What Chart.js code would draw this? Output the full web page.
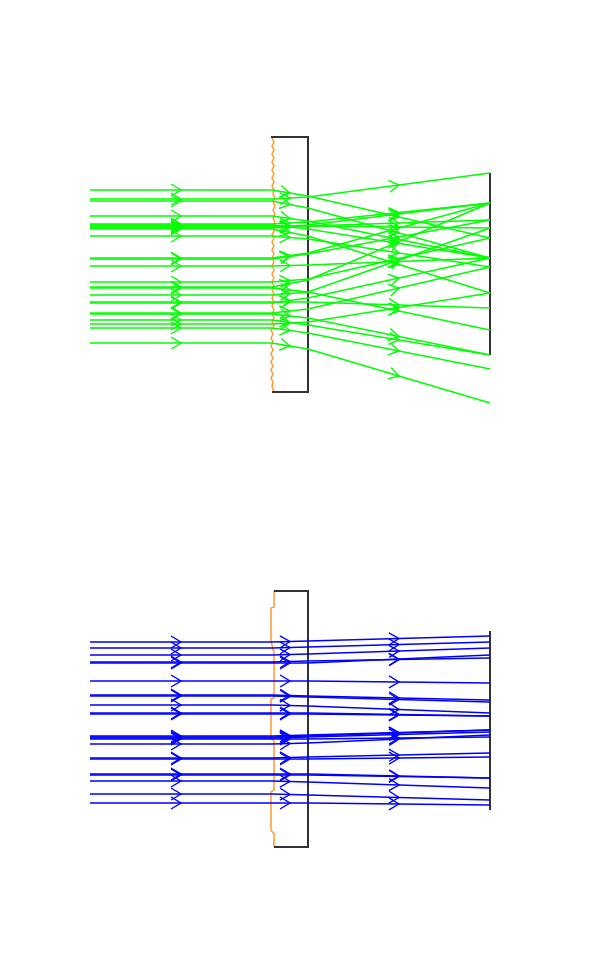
<!DOCTYPE html>
<html>
<head>
<meta charset="utf-8">
<title>Ray trace</title>
<script src="https://cdn.jsdelivr.net/npm/chart.js@4/dist/chart.umd.js"></script>
<style>
  html, body { margin: 0; padding: 0; background: #fff; }
  #wrap { width: 600px; height: 972px; }
  canvas { filter: blur(0.45px); }
</style>
</head>
<body>
<div id="wrap"><canvas id="rays" width="600" height="972"></canvas></div>
<script>
// x stations of every ray: source, lens front, lens back, image plane
const rayStations = [90, 272, 308, 490];

// green group, y at source / lens front, lens back, image plane
const greenIn   = [190, 199, 201, 216, 224, 225, 226, 227, 228, 229, 236, 258, 259, 266, 282, 287, 288, 295, 302, 303, 313, 314, 320, 324, 328, 343];
const greenExit = [196, 197, 208, 221, 222, 229, 226, 226, 225, 236, 239, 253, 254, 265, 279, 280, 292, 292, 302, 298, 309, 318, 325, 322, 333, 349];
const greenOut  = [238, 173, 258, 258, 203, 258, 228, 220, 203, 293, 267, 203, 220, 258, 238, 203, 330, 228, 308, 258, 267, 355, 355, 293, 369, 403];

// blue group
const blueIn   = [642, 648, 655, 662, 663, 681, 695, 696, 705, 713, 714, 736, 737, 738, 739, 744, 758, 759, 774, 775, 781, 794, 803];
const blueExit = [641, 647, 654, 661, 663, 681, 696, 697, 706, 713, 714, 735, 736, 737, 739, 743, 757, 759, 774, 775, 782, 795, 803];
const blueOut  = [636, 642, 648, 658, 655, 683, 700, 702, 713, 716, 716, 730, 730, 732, 737, 735, 753, 757, 778, 778, 788, 800, 805];

// lens outlines
const greenBoxX = [271, 308, 308, 272];
const greenBoxY = [137, 137, 392, 392];
const blueBoxX  = [274, 308, 308, 274];
const blueBoxY  = [591, 591, 847, 847];

// image planes
const greenPlaneX = [490, 490];
const greenPlaneY = [173, 355];
const bluePlaneX  = [490, 490];
const bluePlaneY  = [631, 810];

// front surfaces (orange)
const greenSurfY = [138, 142, 146, 150, 154, 158, 162, 166, 170, 174, 178, 182, 186, 190, 194, 198, 202, 206, 210, 214, 218, 222, 226, 230, 234, 238, 242, 246, 250, 254, 258, 262, 266, 270, 274, 278, 282, 286, 290, 294, 298, 302, 306, 310, 314, 318, 322, 326, 330, 334, 338, 342, 346, 350, 354, 358, 362, 366, 370, 374, 378, 382, 386, 392];
const greenSurfX = [272, 274, 272, 274, 272, 274, 272, 274, 272, 274, 272, 274, 272, 274, 273, 275, 273, 275, 273, 275, 273, 275, 273, 275, 272, 274, 272, 274, 272, 274, 272, 274, 272, 274, 272, 274, 272, 274, 272, 274, 272, 274, 272, 274, 272, 274, 272, 274, 271, 273, 271, 273, 271, 273, 271, 273, 271, 273, 271, 273, 271, 273, 272, 274];
const blueSurfY = [591, 607, 608, 640, 650, 651, 698, 699, 738, 741, 790, 792, 830, 834, 847];
const blueSurfX = [274, 274, 271, 271, 273, 274, 274, 271, 271, 274, 274, 271, 271, 274, 274];

const GREEN = '#00ff00', BLUE = '#0000ff', ORANGE = '#ff9a2e', BLACK = '#333333';

function rayDataset(y0, y1, y2, color) {
  const ys = [y0, y0, y1, y2];
  return {
    data: rayStations.map((x, i) => ({ x: x, y: ys[i] })),
    borderColor: color, borderWidth: 1.6, showLine: true, pointRadius: 0, tension: 0, arrows: true
  };
}
function pathDataset(xs, ys, color, width) {
  return {
    data: xs.map((x, i) => ({ x: x, y: ys[i] })),
    borderColor: color, borderWidth: width, showLine: true, pointRadius: 0, tension: 0
  };
}

const datasets = [];
greenIn.forEach((y, i) => datasets.push(rayDataset(y, greenExit[i], greenOut[i], GREEN)));
blueIn.forEach((y, i) => datasets.push(rayDataset(y, blueExit[i], blueOut[i], BLUE)));
datasets.push(pathDataset(greenBoxX, greenBoxY, BLACK, 2));
datasets.push(pathDataset(blueBoxX, blueBoxY, BLACK, 2));
datasets.push(pathDataset(greenPlaneX, greenPlaneY, BLACK, 2));
datasets.push(pathDataset(bluePlaneX, bluePlaneY, BLACK, 2));
datasets.push(pathDataset(greenSurfX, greenSurfY, ORANGE, 1.5));
datasets.push(pathDataset(blueSurfX, blueSurfY, ORANGE, 1.5));

// little ">" heads halfway along each ray segment
const rayArrows = {
  id: 'rayArrows',
  afterDatasetsDraw(chart) {
    const ctx = chart.ctx;
    chart.data.datasets.forEach((ds, i) => {
      if (!ds.arrows) return;
      const pts = chart.getDatasetMeta(i).data;
      ctx.save();
      ctx.strokeStyle = ds.borderColor;
      ctx.lineWidth = 1.4;
      for (let k = 0; k < pts.length - 1; k++) {
        const a = pts[k], b = pts[k + 1];
        ctx.save();
        ctx.translate((a.x + b.x) / 2, (a.y + b.y) / 2);
        ctx.rotate(Math.atan2(b.y - a.y, b.x - a.x));
        ctx.beginPath();
        ctx.moveTo(-10, -6);
        ctx.lineTo(0, 0);
        ctx.lineTo(-10, 6);
        ctx.stroke();
        ctx.restore();
      }
      ctx.restore();
    });
  }
};

new Chart(document.getElementById('rays').getContext('2d'), {
  type: 'scatter',
  data: { datasets: datasets },
  plugins: [rayArrows],
  options: {
    responsive: false,
    animation: false,
    layout: { padding: 0 },
    plugins: { legend: { display: false }, tooltip: { enabled: false } },
    scales: {
      x: { type: 'linear', min: 0, max: 600, display: false },
      y: { type: 'linear', min: 0, max: 972, reverse: true, display: false }
    }
  }
});
</script>
</body>
</html>
